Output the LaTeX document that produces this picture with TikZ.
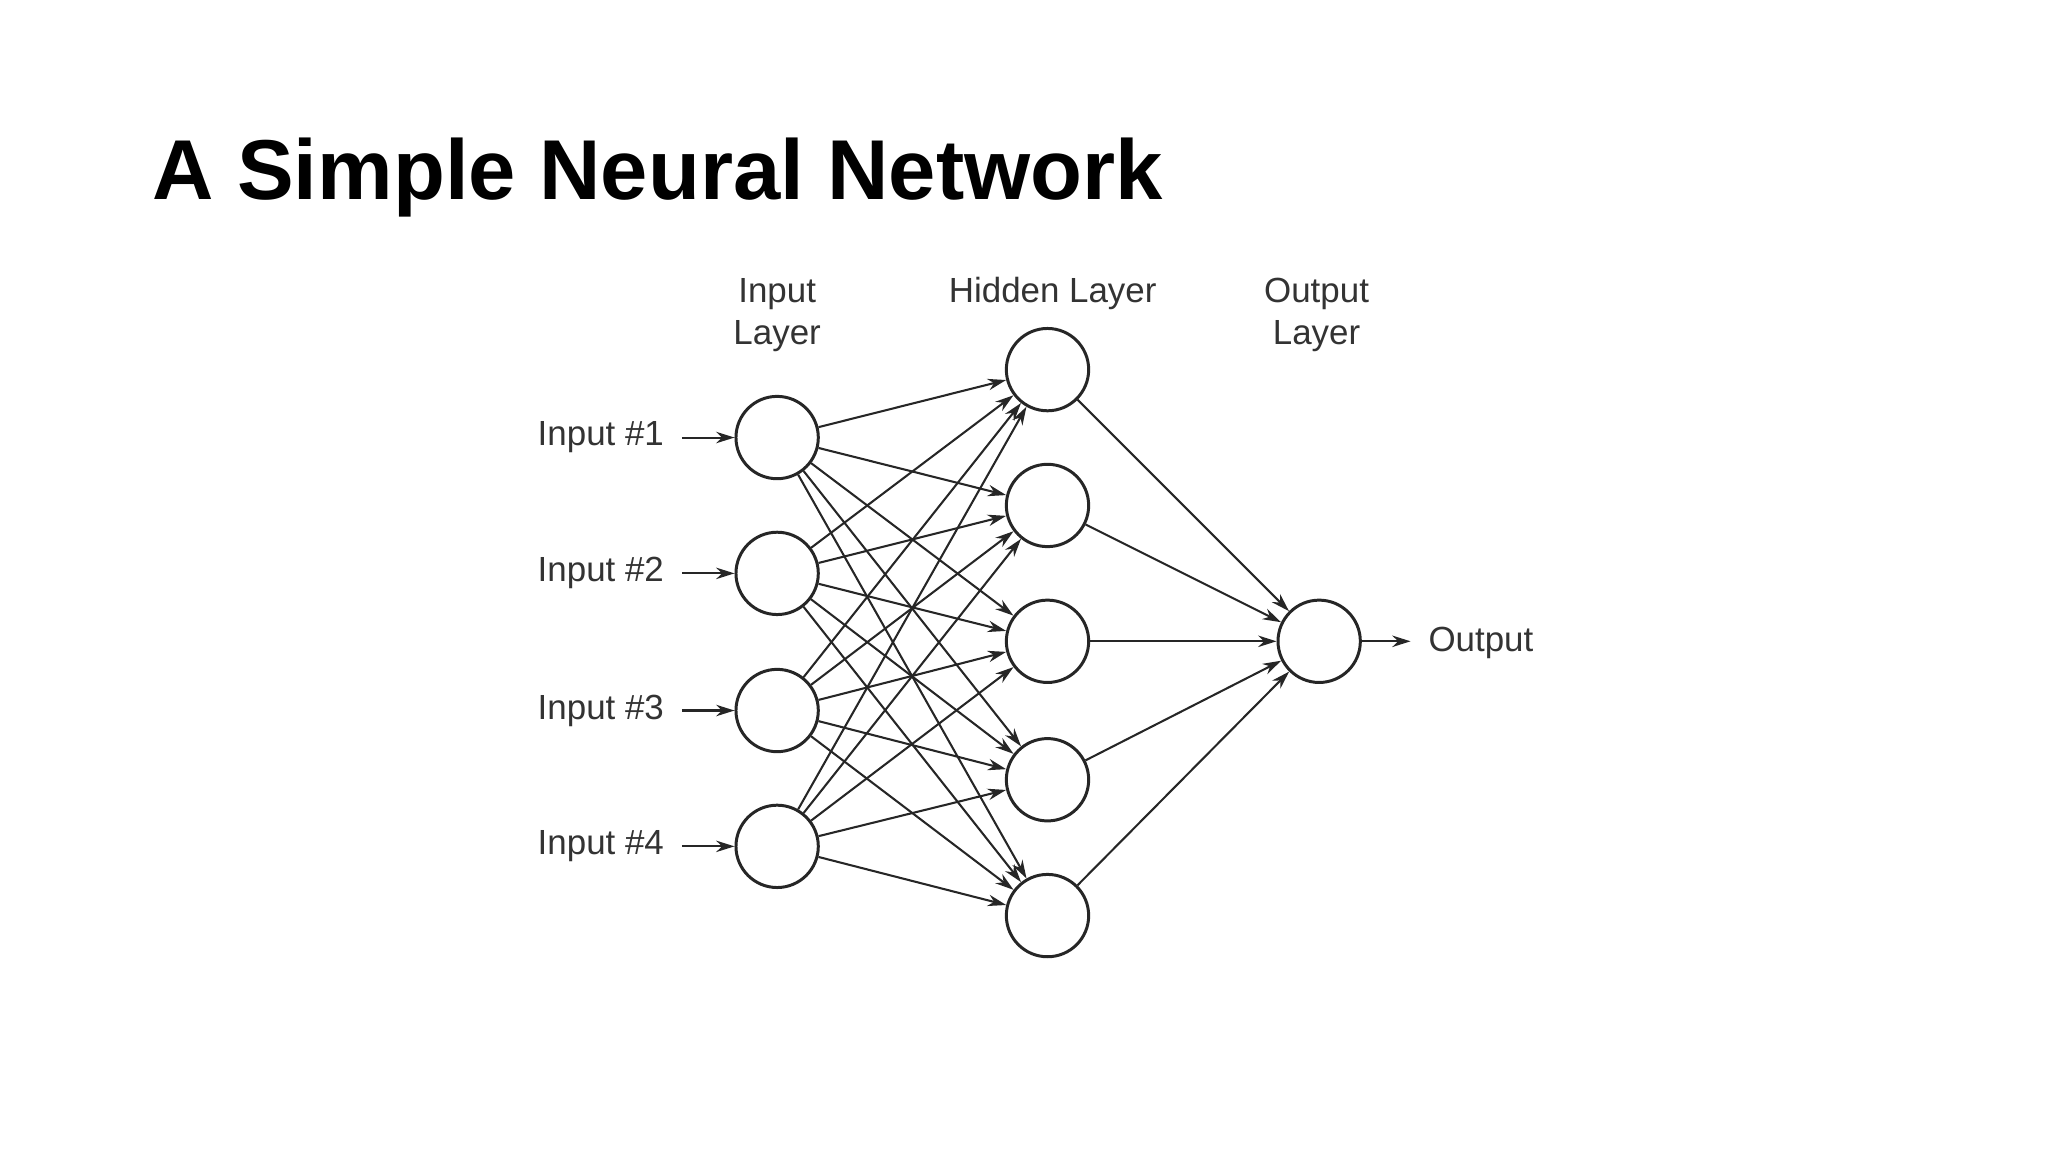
\documentclass[tikz,border=0pt]{standalone}
\usepackage{fontspec}
\setmainfont{Liberation Sans}
\usetikzlibrary{arrows.meta}
\begin{document}
\begin{tikzpicture}[x=0.01cm,y=-0.01cm,
  neuron/.style={circle,draw=black!85,line width=0.65pt,minimum size=0.63cm,inner sep=0pt},
  lbl/.style={font=\fontsize{7.6pt}{9.2pt}\selectfont,text=black!80,align=center},
  conn/.style={-{Stealth[length=4pt,width=2.5pt]},line width=0.45pt,black!85}]
\useasboundingbox (0,0) rectangle (1568,882);
\node[anchor=base west,inner sep=0pt,font=\bfseries\fontsize{18.5pt}{22pt}\selectfont] (title) at (116,153) {A Simple Neural Network};
\foreach \i/\y in {1/335,2/439,3/544,4/648}{
  \node[neuron] (i\i) at (595,\y) {};
  \node[lbl,anchor=east,inner sep=0pt] (t\i) at (509,\y) {Input \#\i};
  \coordinate (s\i) at (522,\y);
  \draw[conn] (s\i) -- (i\i);
}
\foreach \j/\y in {1/283,2/387,3/491,4/597,5/701}{
  \node[neuron] (h\j) at (802,\y) {};
}
\node[neuron] (o) at (1010,491) {};
\foreach \i in {1,...,4}{\foreach \j in {1,...,5}{\draw[conn] (i\i) -- (h\j);}}
\foreach \j in {1,...,5}{\draw[conn] (h\j) -- (o);}
\coordinate (oe) at (1080,491);
\draw[conn] (o) -- (oe);
\node[lbl,anchor=west,inner sep=0pt] (out) at (1093,492) {Output};
\node[lbl] (il) at (595,241) {Input\\Layer};
\node[lbl] (hl) at (806,225) {Hidden Layer};
\node[lbl] (ol) at (1008,241) {Output\\Layer};
\end{tikzpicture}
\end{document}
